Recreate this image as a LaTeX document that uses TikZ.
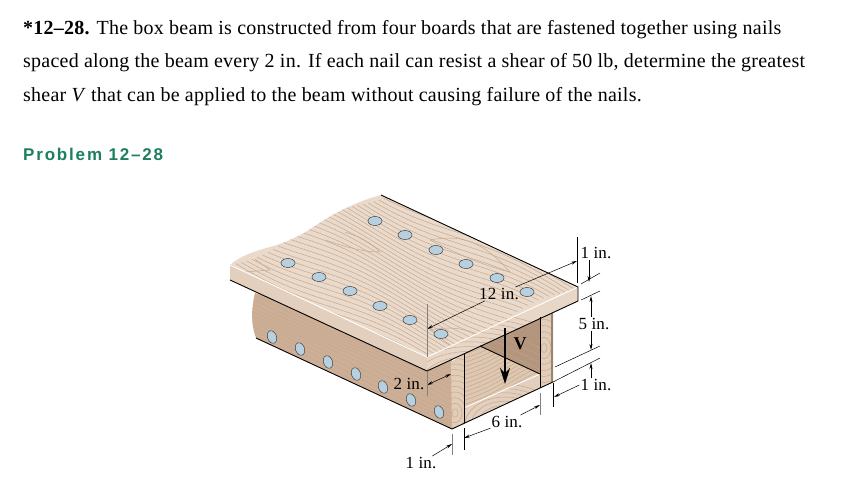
\documentclass[tikz,border=0pt]{standalone}
\usepackage{xcolor}
\usepackage{fontspec}
\setmainfont[LetterSpace=1.2]{Liberation Serif}
\newfontfamily\titrefont[LetterSpace=10.7]{Liberation Sans}
\usetikzlibrary{arrows.meta}
\definecolor{boisclair}{HTML}{EADACB}
\definecolor{boischant}{HTML}{E3CFBD}
\definecolor{boisbout}{HTML}{E2CDB9}
\definecolor{boiscote}{HTML}{CDAF97}
\definecolor{boisfond}{HTML}{B4967E}
\definecolor{boissol}{HTML}{DEC8B2}
\definecolor{boissombre}{HTML}{9A8672}
\definecolor{veine}{HTML}{C6A88E}
\definecolor{clou}{HTML}{B7D0DF}
\definecolor{vert}{HTML}{1B7F60}
\tikzstyle{texte}=[anchor=base west, inner sep=0pt, font=\fontsize{20}{22}\selectfont]
\tikzstyle{cote}=[inner sep=1pt, font=\fontsize{17}{20}\selectfont]
\tikzstyle{fleche}=[-{Stealth[length=6pt,width=3pt]}, line width=0.5pt]
\tikzstyle{rappel}=[line width=0.5pt]
\tikzstyle{rappelbois}=[line width=0.7pt, black!50]
\tikzstyle{veinure}=[veine, line width=0.5pt]
\tikzstyle{contour}=[black, line width=0.9pt, line join=round]
\tikzstyle{cloudessus}=[draw=black!75, fill=clou, line width=0.5pt, ellipse, minimum width=14pt, minimum height=9pt, inner sep=0pt]
\usetikzlibrary{shapes.geometric}
\begin{document}
\begin{tikzpicture}[x=1pt,y=-1pt]
\useasboundingbox (0,0) rectangle (844,478);

%texte
\node[texte] (ligne1) at (23,35) {{\bfseries *12–28.} The box beam is constructed from four boards that are fastened together using nails};
\node[texte] (ligne2) at (23,68) {spaced along the beam every 2 in. If each nail can resist a shear of 50 lb, determine the greatest};
\node[texte] (ligne3) at (23,102) {shear \textit{V} that can be applied to the beam without causing failure of the nails.};
\node[anchor=base west, inner sep=0pt, text=vert, font=\titrefont\bfseries\fontsize{17}{20}\selectfont] (probleme) at (23,161) {Problem 12–28};

%planche de cote
\fill[boiscote] (255,293) .. controls (251,310) and (251,325) .. (256,338) -- (452,429) -- (452,355) -- cycle;
\begin{scope}
\clip (255,293) .. controls (251,310) and (251,325) .. (256,338) -- (452,429) -- (452,355) -- cycle;
\foreach \t in {-0.2,-0.12,...,1}
  \draw[veinure] plot[domain=0:1,samples=15,smooth] ({250+205*\x},{290+\t*50+92*\x+3*sin(280*\x+300*\t)});
\end{scope}

%planche de droite et fond
\fill[boisfond] (480,346) -- (540,317) -- (540,374) -- cycle;
\fill[boissol] (464,354) -- (480,346) -- (540,374) -- (464,408) -- cycle;
\begin{scope}
\clip (464,354) -- (480,346) -- (540,374) -- (464,408) -- cycle;
\foreach \t in {0,0.07,...,1.2}
  \draw[veinure] plot[domain=0:1,samples=10,smooth] ({464+76*\x},{350+\t*60-36*\x+2*sin(300*\x)});
\end{scope}
\begin{scope}
\clip (480,346) -- (540,317) -- (540,374) -- cycle;
\foreach \t in {0,0.12,...,1}
  \draw[veine!60!boisfond, line width=0.5pt] plot[domain=0:1,samples=10,smooth] ({480+60*\x},{320+\t*60+28*\x});
\end{scope}
\fill[boisbout] (540,317) -- (551,312) -- (551,383) -- (540,388) -- cycle;
\fill[boissombre] (551,312) -- (553,311) -- (553,382) -- (551,383) -- cycle;
\begin{scope}
\clip (540,317) -- (551,312) -- (551,383) -- (540,388) -- cycle;
\foreach \r in {3,7,...,35}
  \draw[veinure] (544,348) circle ({\r} and {\r*1.5});
\end{scope}

%planche du bas
\fill[boischant] (464,408) -- (540,374) -- (540,388) -- (464,423) -- cycle;
\begin{scope}
\clip (464,408) -- (540,374) -- (540,388) -- (464,423) -- cycle;
\foreach \r in {10,16,...,60}
  \draw[veinure] (505,425) circle ({\r} and {\r*0.7});
\end{scope}
\draw[white, line width=0.9pt] (464,408) -- (540,374);

%planche de gauche, bout
\fill[boisbout] (451,362) -- (464,354) -- (464,423) -- (452,429) -- cycle;
\begin{scope}
\clip (451,362) -- (464,354) -- (464,423) -- (452,429) -- cycle;
\foreach \r in {3,7,...,40}
  \draw[veinure] (455,413) circle ({\r} and {\r*1.4});
\end{scope}

%planche du dessus
\fill[boisclair] (230,265) .. controls (240,256) and (255,251) .. (270,247) .. controls (285,243) and (300,236) .. (312,228) .. controls (325,219) and (350,203) .. (381,195) -- (578,287) -- (427,357) -- cycle;
\begin{scope}
\clip (230,265) .. controls (240,256) and (255,251) .. (270,247) .. controls (285,243) and (300,236) .. (312,228) .. controls (325,219) and (350,203) .. (381,195) -- (578,287) -- (427,357) -- cycle;
\foreach \t in {-0.1,-0.065,...,1.1}
  \draw[veinure] plot[domain=0:1,samples=25,smooth] ({230+151*\t+197*\x},{265-70*\t+92*\x+5*sin(330*\x+420*\t)});
\draw[veinure] (255,259) -- (270,270) -- (245,272);
\draw[veinure] (345,232) .. controls (370,240) and (375,248) .. (380,252) .. controls (360,252) and (340,245) .. (325,240);
\draw[veinure] (470,360) -- (430,330) .. controls (455,325) and (470,330) .. (490,340);
\draw[veinure] (430,240) .. controls (470,232) and (490,250) .. (510,272) .. controls (480,265) and (450,250) .. (430,240);
\end{scope}
\fill[boischant] (230,265) -- (427,357) -- (427,371) -- (230,280) -- cycle;
\fill[boisclair!70!boischant] (427,357) -- (578,287) -- (578,301) -- (427,371) -- cycle;
\begin{scope}
\clip (427,357) -- (578,287) -- (578,301) -- (427,371) -- cycle;
\foreach \r in {6,12,...,90}
  \draw[veinure] (470,385) circle ({\r*1.4} and {\r*0.8});
\end{scope}
\draw[white, line width=0.9pt] (230,265) -- (427,357) -- (578,287);

%contours
\draw[contour] (381,195) -- (578,287) -- (578,301) -- (427,371) -- (230,280);
\draw[contour] (256,338) -- (452,429) -- (540,388) -- (553,382);
\draw[contour] (464,354) -- (464,423);
\draw[contour] (480,346) -- (540,374);
\draw[contour] (540,317) -- (540,388);

%clous
\foreach \n/\px/\py in {a/375/221,b/405/235,c/436/250,d/466/264,e/497/278,f/527/292,g/288/263,h/319/277,i/350/291,j/380/306,k/410/320,l/441/334}
  \node[cloudessus] (clou\n) at (\px,\py) {};
\foreach \n/\px/\py in {a/272/337,b/300/349,c/328/362,d/356/374,e/383/387,f/411/400,g/439/412}
  \node[cloudessus, minimum width=13pt, minimum height=9pt, rotate=-70] (cloucote\n) at (\px,\py) {};

%effort V
\coordinate (hautV) at (505,328);
\coordinate (basV) at (505,384);
\draw[-{Stealth[length=16pt,width=10pt]}, line width=1.8pt] (hautV) -- (basV);
\node[inner sep=0pt, font=\bfseries\fontsize{18}{20}\selectfont] (V) at (520,344) {V};

%cotes
\node[cote] (l12) at (499,294) {12 in.};
\coordinate (h12a) at (577,261);
\coordinate (h12b) at (427,329);
\draw[fleche] (l12) -- (h12a);
\draw[fleche] (l12) -- (h12b);
\draw[rappelbois] (427,304) -- (427,357);
\draw[rappel] (577,237) -- (577,283);

\node[cote] (l1a) at (596,253) {1 in.};
\coordinate (h1a) at (589,282);
\draw[fleche] (l1a.south -| h1a) -- (h1a);
\draw[rappel] (581,284) -- (600,273);
\draw[rappel] (581,300) -- (600,291);

\node[cote] (l5) at (594,324) {5 in.};
\coordinate (h5a) at (591,296);
\coordinate (h5b) at (591,350);
\draw[fleche] (l5.north -| h5a) -- (h5a);
\draw[fleche] (l5.south -| h5b) -- (h5b);
\draw[rappel] (555,367) -- (600,346);
\draw[rappel] (553,382) -- (600,358);

\node[cote] (l1b) at (596,385) {1 in.};
\coordinate (h1b) at (591,363);
\coordinate (h1c) at (554,397);
\draw[fleche] (l1b.north -| h1b) -- (h1b);
\draw[fleche] (l1b.west) -- (h1c);
\draw[rappel] (553,383) -- (553,407);

\node[cote, fill=none] (l6) at (507,422) {6 in.};
\coordinate (h6a) at (464,438);
\coordinate (h6b) at (540,405);
\draw[fleche] (l6) -- (h6a);
\draw[fleche] (l6) -- (h6b);
\draw[rappel] (464,428) -- (464,450);
\draw[rappelbois] (540,393) -- (540,415);

\node[cote] (l2) at (409,384) {2 in.};
\coordinate (h2a) at (427,385);
\coordinate (h2b) at (451,374);
\draw[{Stealth[length=6pt,width=3pt]}-{Stealth[length=6pt,width=3pt]}, line width=0.5pt] (h2a) -- (h2b);
\draw[rappelbois] (427,371) -- (427,396);

\node[cote] (l1d) at (421,463) {1 in.};
\coordinate (h1d) at (452,444);
\draw[fleche] (l1d) -- (h1d);
\draw[rappelbois] (452,434) -- (452,455);
\end{tikzpicture}
\end{document}
